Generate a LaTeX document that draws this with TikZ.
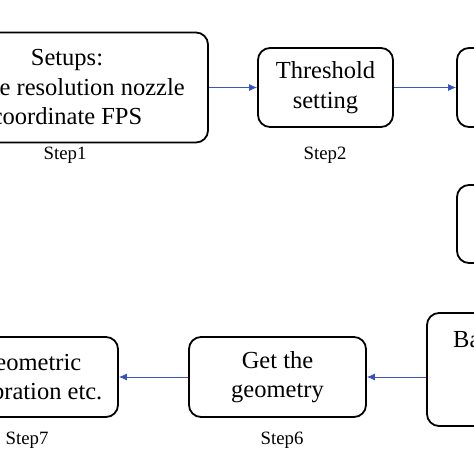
\documentclass[tikz,border=0pt]{standalone}
\usepackage{fontspec}
\setmainfont{Liberation Serif}
\usetikzlibrary{arrows.meta}
\definecolor{arrowblue}{RGB}{45,75,205}
\tikzset{
  stepbox/.style={draw=black, line width=1.8pt, rounded corners=12pt, inner sep=0pt, align=center,
    font=\fontsize{24.5pt}{29.5pt}\selectfont},
  steplabel/.style={inner sep=0pt, font=\fontsize{18.8pt}{22pt}\selectfont},
  flow/.style={draw=arrowblue!80!gray, line width=0.8pt, -{Latex[length=8pt,width=7pt,fill=arrowblue]}}
}
\begin{document}
\begin{tikzpicture}[x=1pt,y=-1pt]
\useasboundingbox (0,0) rectangle (474,474);
\clip (0,0) rectangle (474,474);
\fill[white] (0,0) rectangle (474,474);
\node[stepbox, minimum width=282pt, minimum height=110pt] (s1) at (67,87.5) {Setups:\\Image resolution nozzle\\coordinate FPS};
\node[stepbox, minimum width=135pt, minimum height=79pt] (s2) at (325.5,87.5) {Threshold\\setting};
\node[stepbox, minimum width=135pt, minimum height=79pt] (s3) at (524.5,87.5) {};
\node[stepbox, minimum width=135pt, minimum height=78pt] (s4) at (524.5,224) {};
\node[stepbox, minimum width=180pt, minimum height=113pt] (s5) at (517,369.5) {};
\node[anchor=west, inner sep=0pt, font=\fontsize{24.5pt}{29.5pt}\selectfont] (s5t) at (453,340) {Ba};
\node[stepbox, minimum width=177pt, minimum height=80pt] (s6) at (277.5,377) {Get the\\geometry};
\node[stepbox, minimum width=177pt, minimum height=80pt] (s7) at (29.5,377) {Geometric\\calibration etc.};
\node[steplabel] (l1) at (65,155) {Step1};
\node[steplabel] (l2) at (325,155) {Step2};
\node[steplabel] (l6) at (282,440) {Step6};
\node[steplabel] (l7) at (27,440) {Step7};
\draw[flow] (s1.east) -- (s2.west);
\draw[flow] (s2.east) -- (s3.west);
\draw[flow] (s6.east -| s5.west) -- (s6.east);
\draw[flow] (s6.west) -- (s7.east);
\end{tikzpicture}
\end{document}
